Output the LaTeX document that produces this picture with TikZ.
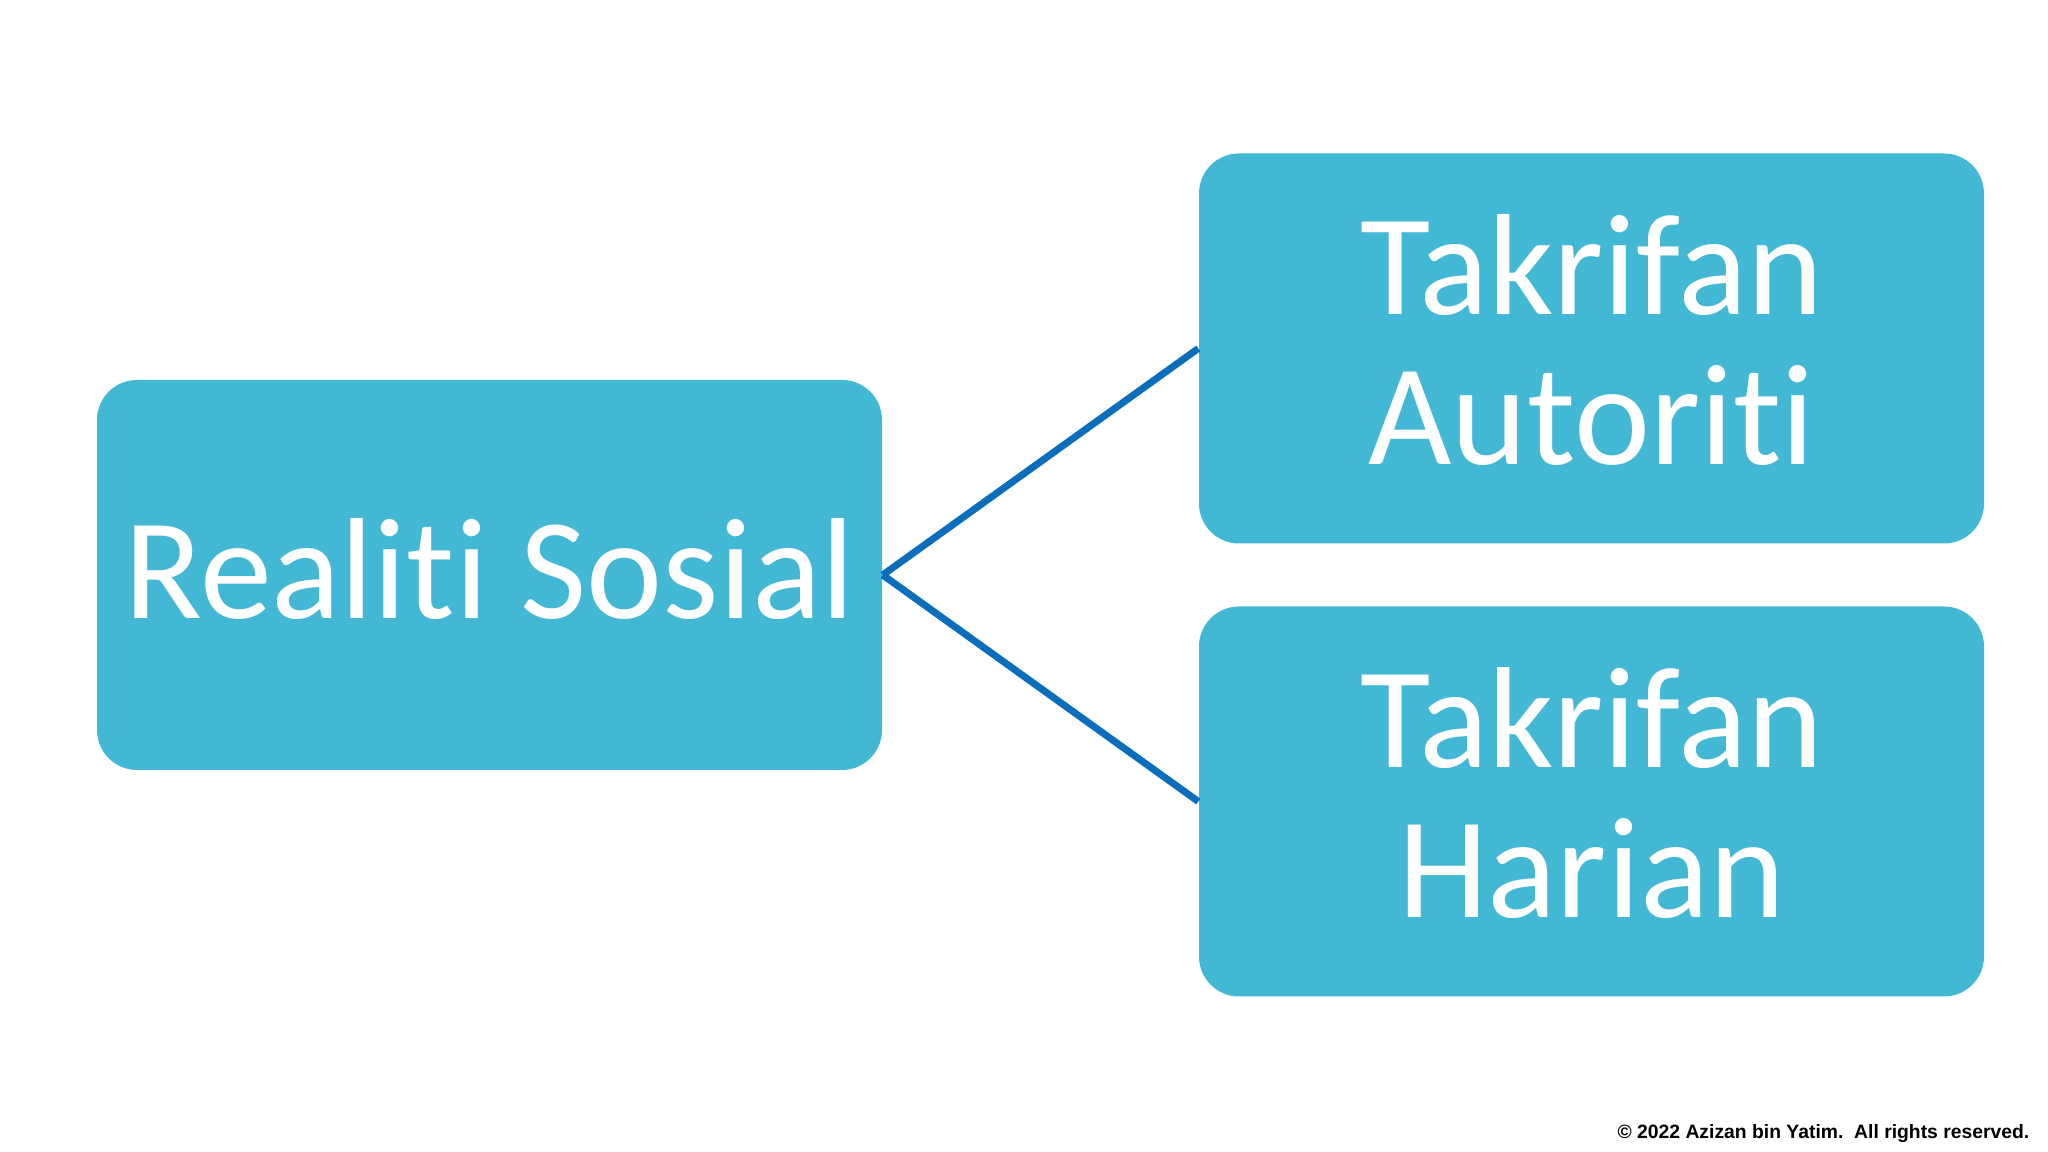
\documentclass[tikz,border=0pt]{standalone}
\usepackage{fontspec}
\setmainfont{Carlito}[Ligatures=NoCommon]
\newfontfamily\noticefont{Liberation Sans}
\definecolor{boxblue}{HTML}{42B8D4}
\definecolor{linkblue}{HTML}{0A6EBD}

\begin{document}
\begin{tikzpicture}[every node/.style={font=\fontsize{41}{42.7}\selectfont},
  topic/.style={fill=boxblue, text=white, rounded corners=0.4cm, align=center, minimum width=7.85cm, minimum height=3.9cm, inner sep=0pt, text depth=0.14cm},
  link/.style={draw=linkblue, line width=2pt}]
  \useasboundingbox (0,0) rectangle (20.48,11.52);
  \node[topic] (realiti) at (4.895,5.77) {Realiti Sosial};
  \node[topic, text depth=0.18cm] (autoriti) at (15.915,8.035) {Takrifan\\Autoriti};
  \node[topic, text depth=0.18cm] (harian) at (15.915,3.505) {Takrifan\\Harian};
  \draw[link] (realiti.east) -- (autoriti.west);
  \draw[link] (realiti.east) -- (harian.west);
  \node[anchor=base east, inner sep=0pt, font=\noticefont\bfseries\fontsize{5.5}{6}\selectfont] (notice) at (20.30,0.13) {\textcopyright{} 2022 Azizan bin Yatim.\ \ All rights reserved.};
\end{tikzpicture}
\end{document}
